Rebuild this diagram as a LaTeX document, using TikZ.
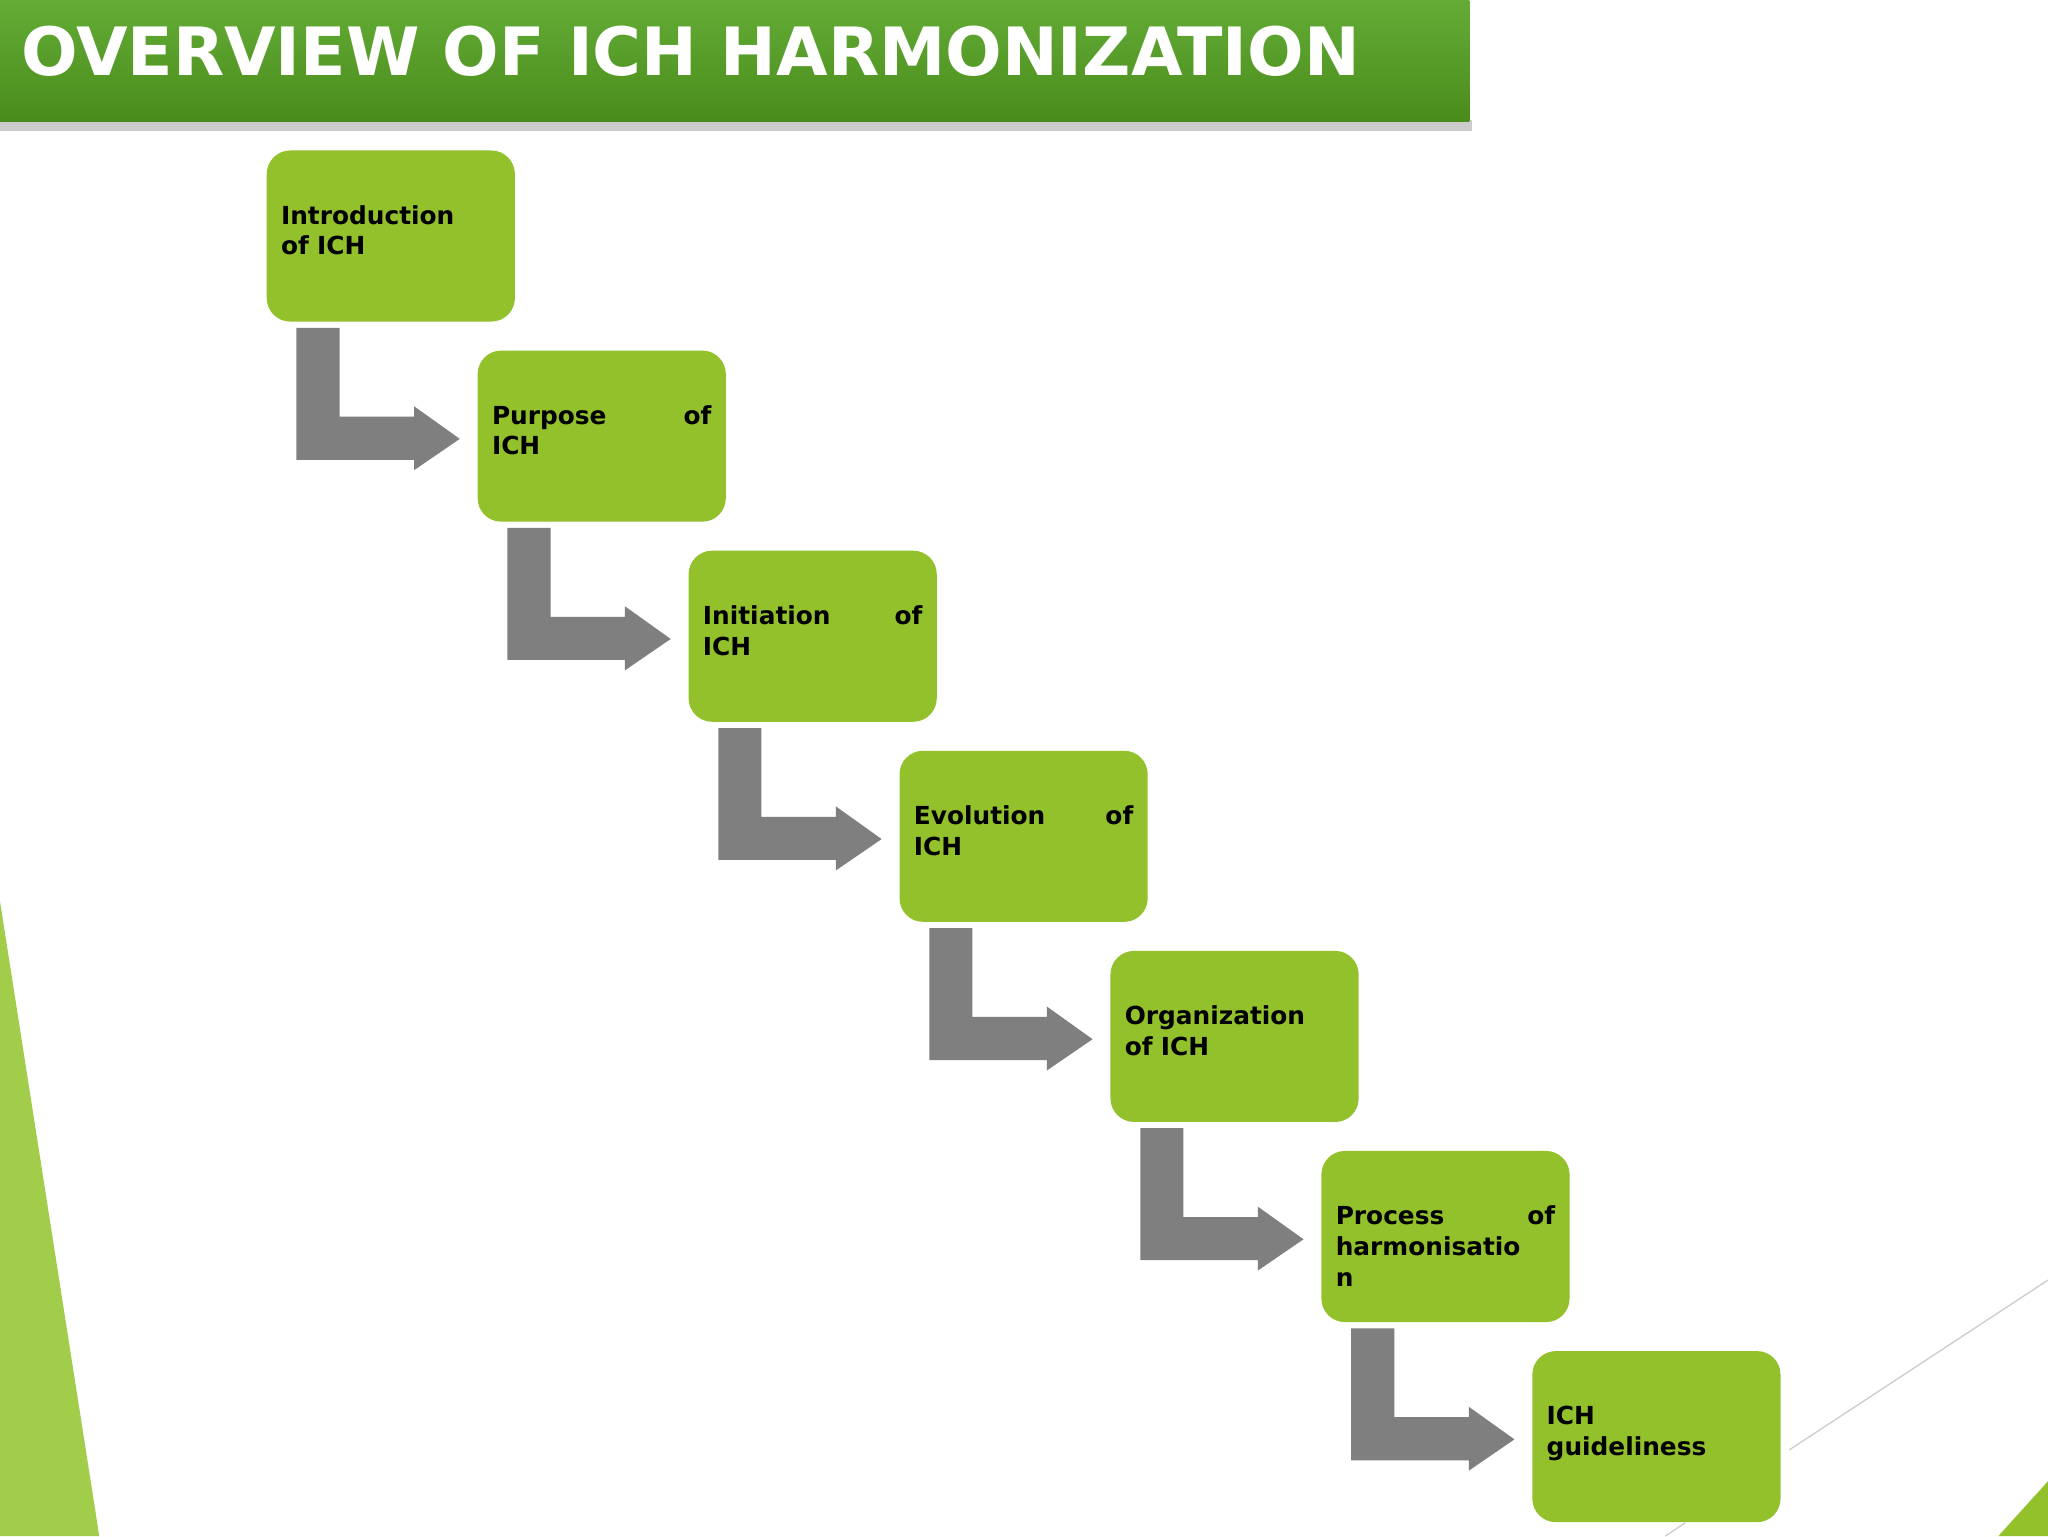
\documentclass[tikz,border=0pt]{standalone}
\usepackage{fontspec}
\setmainfont{DejaVu Sans}
\begin{document}
\begin{tikzpicture}[x=1pt,y=-1pt,
  stepbox/.style={fill=boxgreen,rounded corners=18pt,minimum width=190pt,minimum height=131pt,anchor=north west,inner sep=0pt},
  boxtext/.style={anchor=north west,text width=168pt,align=left,font=\fontsize{19pt}{23.5pt}\selectfont\bfseries,inner sep=0pt},
  bentarrow/.style={fill=arrowgray}]
\definecolor{boxgreen}{HTML}{92C12B}
\definecolor{arrowgray}{HTML}{7F7F7F}
\definecolor{bartop}{HTML}{64AC36}
\definecolor{barbot}{HTML}{4A8C1C}
\definecolor{deco}{HTML}{A2CD4A}
\useasboundingbox (0,0) rectangle (1568,1176);
\fill[white] (0,0) rectangle (1568,1176);
% decorations
\fill[deco] (0,690) -- (76,1176) -- (0,1176) -- cycle;
\fill[boxgreen] (1530,1176) -- (1568,1134) -- (1568,1176) -- cycle;
\draw[gray!40,line width=1pt] (1370,1110) -- (1568,980);
\draw[gray!40,line width=1pt] (1275,1176) -- (1290,1166);
% title bar
\fill[gray!40] (0,92) rectangle (1127,100);
\shade[top color=bartop,bottom color=barbot] (0,0) rectangle (1125,93);
\node[anchor=west,text=white,font=\fontsize{51pt}{51pt}\selectfont\bfseries,inner sep=0pt] (title) at (16,39) {OVERVIEW OF ICH HARMONIZATION};
% boxes and arrows
\foreach \i/\t in {0/{Introduction\\of ICH},1/{Purpose\hfill of\\ICH},2/{Initiation\hfill of\\ICH},3/{Evolution\hfill of\\ICH},4/{Organization\\of ICH},5/{Process\hfill of\\harmonisatio\\n},6/{ICH\\guideliness}}{
  \pgfmathsetmacro{\dx}{161.5*\i}
  \pgfmathsetmacro{\dy}{153.2*\i}
  \node[stepbox] (b\i) at (204+\dx,115+\dy) {};
  \node[boxtext] (t\i) at (215+\dx,157+\dy) {\t};
}
\foreach \i in {0,...,5}{
  \pgfmathsetmacro{\dx}{161.5*\i}
  \pgfmathsetmacro{\dy}{153.2*\i}
  \begin{scope}[shift={(\dx,\dy)}]
  \fill[bentarrow] (227,251) -- (260,251) -- (260,319) -- (317,319) -- (317,311) -- (352,336) -- (317,360) -- (317,352) -- (227,352) -- cycle;
  \end{scope}
}
\end{tikzpicture}
\end{document}
